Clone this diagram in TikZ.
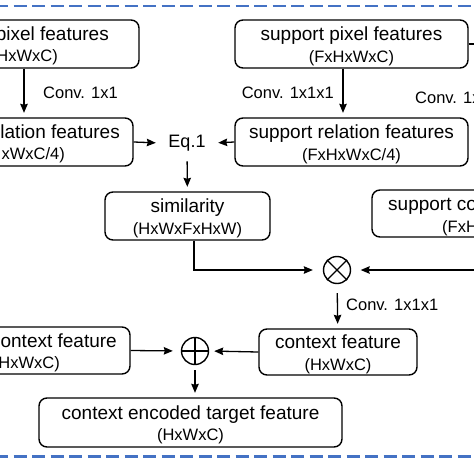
\documentclass[tikz,border=0pt]{standalone}
\usepackage{fontspec}
\setmainfont{Liberation Sans}
\usetikzlibrary{arrows.meta,positioning}

\definecolor{sepblue}{RGB}{68,114,196}

\tikzset{
  box/.style={draw, line width=1.4pt, rounded corners=8pt, inner sep=0pt,
    align=center, font=\fontsize{19}{21.5}\selectfont},
  lineA/.style={inner sep=0pt, font=\fontsize{19}{21}\selectfont},
  lineB/.style={inner sep=0pt, font=\fontsize{16.5}{21}\selectfont},
  conv/.style={inner sep=0pt, font=\fontsize{16.5}{20}\selectfont},
  flow/.style={->, line width=1.3pt, shorten >=4.5pt},
  opnode/.style={draw, circle, line width=1.4pt, minimum size=27pt, inner sep=0pt},
  sepline/.style={draw=sepblue, line width=2.6pt, dash pattern=on 13pt off 5.5pt}
}
\newcommand{\boxtxt}[2]{\rule{0pt}{18pt}#1\\{\fontsize{16.5}{21}\selectfont #2}}

\begin{document}
\begin{tikzpicture}[x=1pt, y=-1pt, >={Stealth[length=9pt,width=7.5pt,inset=1pt]}]
  \useasboundingbox (0,0) rectangle (474,474);
  \clip (0,0) rectangle (474,474);
  \coordinate (redge) at (480,0);

  % separators
  \draw[sepline] (-5,6) -- (480,6);
  \draw[sepline] (-5,456.5) -- (480,456.5);

  % target branch (cut at left edge)
  \node[box, minimum width=230, minimum height=48] (tpix) at (24,44) {};
  \node[lineA, anchor=base east] (tpixa) at (109,40) {pixel features};
  \node[lineB, anchor=base east] (tpixb) at (58,61) {HxWxC)};
  \node[box, minimum width=218, minimum height=48] (trel) at (24,142) {};
  \node[lineA, anchor=base east] (trela) at (120,138) {lation features};
  \node[lineB, anchor=base east] (trelb) at (65,159) {xWxC/4)};
  \draw[flow] (tpix) -- (trel);
  \node[conv, anchor=base west] (convt) at (43,98) {Conv. 1x1};

  % support branch
  \node[box, minimum width=233, minimum height=48] (spix) at (351.5,44)
    {\boxtxt{support pixel features}{(FxHxWxC)}};
  \node[box, minimum width=233, minimum height=48] (srel) at (351.5,142)
    {\boxtxt{support relation features}{(FxHxWxC/4)}};
  \coordinate (sx) at (343,0);
  \draw[flow] (spix.south -| sx) -- (srel.north -| sx);
  \node[conv, anchor=base east] (convs) at (334,98) {Conv. 1x1x1};
  \draw[line width=1.3pt] (spix.east) -- (spix.east -| redge);
  \node[conv, anchor=base west] (convr) at (415,103) {Conv. 1x};

  % Eq.1 and similarity
  \node[inner xsep=8pt, inner ysep=6pt, font=\fontsize{18}{20}\selectfont] (eq) at (187,143) {Eq.1};
  \draw[flow] (trel.east) -- (eq.west);
  \draw[flow] (srel.west) -- (eq.east);
  \node[box, minimum width=165, minimum height=48] (sim) at (187.5,216)
    {\boxtxt{similarity}{(HxWxFxHxW)}};
  \draw[flow, shorten <=4pt] (eq) -- (sim);

  % support context (cut at right edge)
  \node[box, minimum width=256, minimum height=47] (scon) at (500,213.5) {};
  \node[lineA, anchor=base west] (scona) at (388,210) {support co};
  \node[lineB, anchor=base west] (sconb) at (442,232) {(FxH};

  % product
  \node[opnode] (mul) at (337,270) {};
  \draw[line width=1.3pt] (mul.north west) -- (mul.south east)
    (mul.north east) -- (mul.south west);
  \draw[flow, shorten >=10pt] ([xshift=6.5pt]sim.south) |- (mul);
  \draw[flow, shorten >=9.5pt] (mul -| redge) -- (mul);

  \node[box, minimum width=158, minimum height=46] (cfeat) at (338,352)
    {\boxtxt{context feature}{(HxWxC)}};
  \draw[flow, shorten <=9pt] (mul) -- (cfeat);
  \node[conv, anchor=base west] (convm) at (346,310) {Conv. 1x1x1};

  % sum
  \node[box, minimum width=300, minimum height=47] (tctx) at (-20,350.5) {};
  \node[lineA, anchor=base east] (tctxa) at (117,347) {ontext feature};
  \node[lineB, anchor=base east] (tctxb) at (60,368) {HxWxC)};
  \node[opnode] (add) at (195,351) {};
  \draw[line width=1.3pt] (add.north) -- (add.south) (add.west) -- (add.east);
  \draw[flow, shorten >=8pt] (tctx.east) -- (add.west);
  \draw[flow, shorten >=5pt] (cfeat.west) -- (add.east);

  \node[box, minimum width=303, minimum height=49] (cenc) at (190.5,422.5)
    {\boxtxt{context encoded target feature}{(HxWxC)}};
  \draw[flow, shorten <=5pt] (add) -- (add |- cenc.north);
\end{tikzpicture}
\end{document}
